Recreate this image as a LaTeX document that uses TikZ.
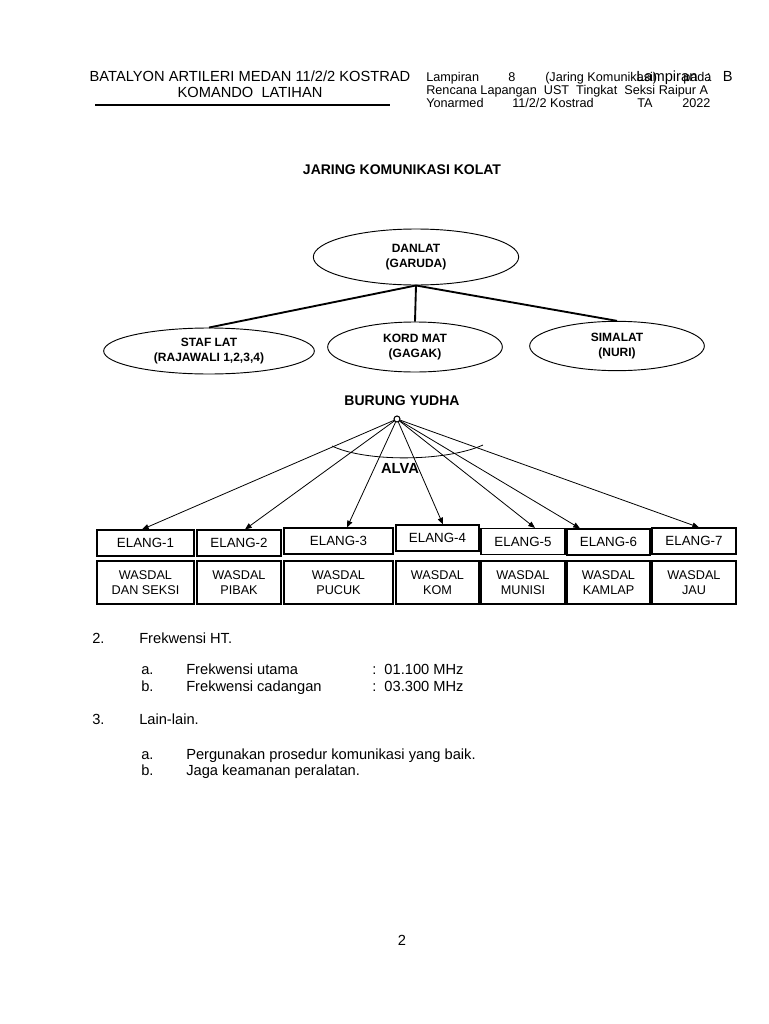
\documentclass[tikz,border=0pt]{standalone}
\usepackage{fontspec}
\setmainfont{Liberation Sans}
\usetikzlibrary{shapes.geometric,arrows.meta}

\begin{document}
\begin{tikzpicture}[x=0.75pt,y=-0.75pt,
  every node/.style={inner sep=0pt},
  oval/.style={ellipse,draw,line width=0.7pt,align=center,font=\fontsize{9}{11}\selectfont\bfseries},
  elang/.style={rectangle,draw,line width=0.9pt,minimum height=19.5pt,font=\fontsize{10}{12}\selectfont},
  wasdal/.style={rectangle,draw,line width=0.9pt,minimum height=32.25pt,align=center,font=\fontsize{9.5}{11.25}\selectfont},
  link/.style={line width=1.4pt},
  sig/.style={line width=0.6pt,-{Triangle[length=5pt,width=4pt]}},
  txt/.style={anchor=base west,font=\fontsize{11}{13}\selectfont},
  hdr/.style={anchor=base west,font=\fontsize{9.5}{11}\selectfont}]
\useasboundingbox (0,0) rectangle (768,1024);

% kop surat
\node[anchor=base,font=\fontsize{11}{13}\selectfont] (unit) at (250,82)
{BATALYON ARTILERI MEDAN 11/2/2 KOSTRAD};
\node[anchor=base,font=\fontsize{11}{13}\selectfont] (kolat) at (250,98)
{KOMANDO\ \ LATIHAN};
\draw[line width=0.8pt] (95,105) -- (390,105);

\node[hdr] (lamp) at (426,81) {Lampiran};
\node[hdr] (lampno) at (508,81) {8};
\node[hdr] (lampjar) at (545,81) {(Jaring Komunikasi)};
\node[hdr] (lamppada) at (683,81) {pada};
\node[anchor=base west,font=\fontsize{11}{13}\selectfont] (lampB) at (636,82)
{Lampiran\hspace{7pt}:\hspace{9pt}B};
\node[hdr] (renc) at (426,94) {Rencana Lapangan\ \ UST\ \ Tingkat\ \ Seksi Raipur A};
\node[hdr] (yon) at (426,108) {Yonarmed};
\node[hdr] (yonno) at (512,108) {11/2/2 Kostrad};
\node[hdr] (ta) at (637,108) {TA};
\node[hdr] (year) at (682,108) {2022};

\node[font=\fontsize{10.5}{12}\selectfont\bfseries] (title) at (402,170)
{JARING KOMUNIKASI KOLAT};

% bagan komando
\node[oval,minimum width=154pt,minimum height=42pt] (danlat) at (416,257)
{DANLAT\\(GARUDA)};
\node[oval,minimum width=158pt,minimum height=34.5pt] (staflat) at (209,351)
{STAF LAT\\(RAJAWALI 1,2,3,4)};
\node[oval,minimum width=131pt,minimum height=37.5pt] (kordmat) at (415,347)
{KORD MAT\\(GAGAK)};
\node[oval,minimum width=131pt,minimum height=37pt] (simalat) at (617,346)
{SIMALAT\\(NURI)};

\draw[link] (danlat.south) -- (staflat.north);
\draw[link] (danlat.south) -- (kordmat.north);
\draw[link] (danlat.south) -- (simalat.north);

% jaring radio
\node[font=\fontsize{10.5}{12}\selectfont\bfseries] (burung) at (402,401)
{BURUNG YUDHA};
\node[circle,draw,line width=0.8pt,minimum size=4.5pt] (hub) at (397,419) {};
\draw[line width=0.6pt] (332,446) .. controls (365,462) and (445,462) .. (483,445);
\node[font=\fontsize{11}{13}\selectfont\bfseries] (alva) at (400,468) {ALVA};

\node[elang,minimum width=72.75pt] (e1) at (145.5,543) {ELANG-1};
\node[elang,minimum width=63pt] (e2) at (239,543) {ELANG-2};
\node[elang,minimum width=81.75pt] (e3) at (338.5,541) {ELANG-3};
\node[elang,minimum width=62.25pt] (e4) at (437.5,538) {ELANG-4};
\node[elang,minimum width=63pt] (e5) at (523,541.5) {ELANG-5};
\node[elang,minimum width=62.25pt] (e6) at (608.5,542) {ELANG-6};
\node[elang,minimum width=63pt] (e7) at (694,541) {ELANG-7};

\node[wasdal,minimum width=72.75pt] (w1) at (145.5,582.5) {WASDAL\\DAN SEKSI};
\node[wasdal,minimum width=63pt] (w2) at (239,582.5) {WASDAL\\PIBAK};
\node[wasdal,minimum width=81.75pt] (w3) at (338.5,582.5) {WASDAL\\PUCUK};
\node[wasdal,minimum width=62.25pt] (w4) at (437.5,582.5) {WASDAL\\KOM};
\node[wasdal,minimum width=63pt] (w5) at (523,582.5) {WASDAL\\MUNISI};
\node[wasdal,minimum width=62.25pt] (w6) at (608.5,582.5) {WASDAL\\KAMLAP};
\node[wasdal,minimum width=63pt] (w7) at (694,582.5) {WASDAL\\JAU};

\draw[sig] (hub) -- ([xshift=-2.6pt]e1.north);
\draw[sig] (hub) -- ([xshift=4.5pt]e2.north);
\draw[sig] (hub) -- ([xshift=6.4pt]e3.north);
\draw[sig] (hub) -- ([xshift=4.1pt]e4.north);
\draw[sig] (hub) -- ([xshift=9pt]e5.north);
\draw[sig] (hub) -- ([xshift=-21.4pt]e6.north);
\draw[sig] (hub) -- ([xshift=3.75pt]e7.north);

% keterangan
\node[txt] (n2) at (92,643) {2.};
\node[txt] (frek) at (139,643) {Frekwensi HT.};
\node[txt] (n2a) at (141,674) {a.};
\node[txt] (utama) at (186,674) {Frekwensi utama};
\node[txt] (utamaval) at (372,674) {:\ \ 01.100 MHz};
\node[txt] (n2b) at (141,691) {b.};
\node[txt] (cadang) at (186,691) {Frekwensi cadangan};
\node[txt] (cadangval) at (372,691) {:\ \ 03.300 MHz};
\node[txt] (n3) at (92,724) {3.};
\node[txt] (lain) at (139,724) {Lain-lain.};
\node[txt] (n3a) at (141,759) {a.};
\node[txt] (prosedur) at (186,759) {Pergunakan prosedur komunikasi yang baik.};
\node[txt] (n3b) at (141,775) {b.};
\node[txt] (alat) at (186,775) {Jaga keamanan peralatan.};

\node[anchor=base,font=\fontsize{11}{13}\selectfont] (page) at (402,945) {2};
\end{tikzpicture}
\end{document}
